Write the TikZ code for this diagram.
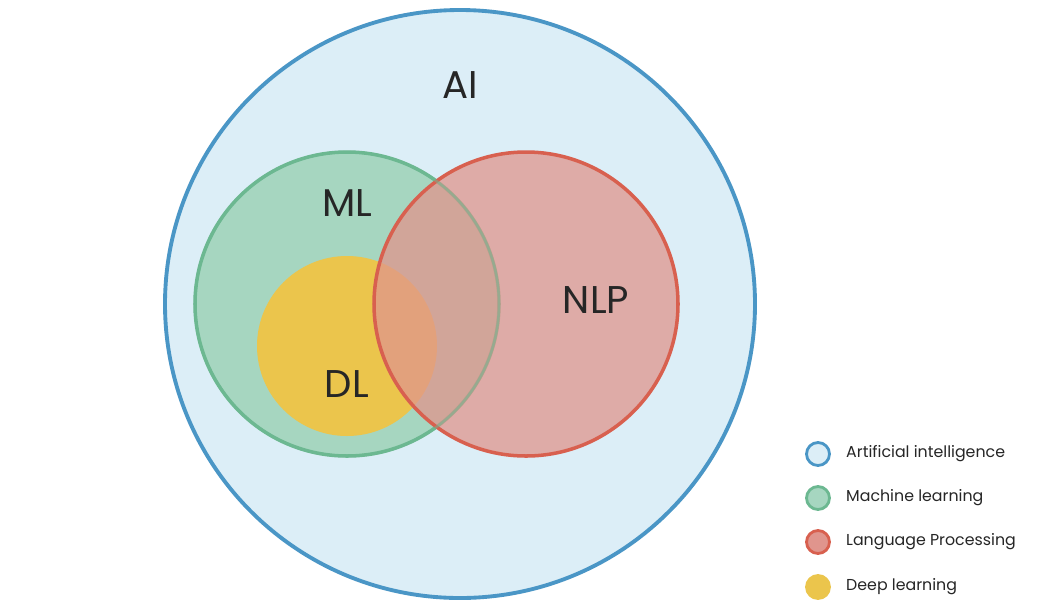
\documentclass[tikz,border=0pt]{standalone}
\usepackage{fontspec}
\setmainfont{Poppins}
\definecolor{aifill}{HTML}{DCEEF7}\definecolor{aidraw}{HTML}{4A96C6}
\definecolor{mlfill}{HTML}{A6D6C0}\definecolor{mldraw}{HTML}{6CB891}
\definecolor{nlpfill}{HTML}{E0958D}\definecolor{nlpdraw}{HTML}{D8604F}
\definecolor{dlfill}{HTML}{EBC54C}
\begin{document}
\begin{tikzpicture}[x=0.02cm,y=-0.02cm,
  big/.style={font=\fontsize{22}{26}\selectfont,text=black!85},
  leg/.style={font=\fontsize{9}{11}\selectfont,anchor=west,text=black!85},
  dot/.style={circle,minimum size=0.46cm,line width=1.6pt,inner sep=0}]
\useasboundingbox (0,0) rectangle (1051,613);
\fill[white] (0,0) rectangle (1051,613);
\draw[aidraw,fill=aifill,line width=2.2pt] (460,304) ellipse [x radius=295,y radius=294];
\draw[mldraw,fill=mlfill,line width=2pt] (347,304) circle [radius=152];
\fill[dlfill] (347,346) circle [radius=90];
\fill[nlpfill,fill opacity=0.75] (526,304) circle [radius=152];
\draw[nlpdraw,line width=2pt] (526,304) circle [radius=152];
\draw[mldraw,line width=1.5pt,opacity=0.5] (347,304) circle [radius=152];
\node[big] (ai) at (460,85) {AI};
\node[big] (ml) at (347,203) {ML};
\node[big] (nlp) at (596,300) {NLP};
\node[big] (dl) at (347,384) {DL};
\node[dot,draw=aidraw,fill=aifill] (d1) at (818,454) {};
\node[dot,draw=mldraw,fill=mlfill] (d2) at (818,498) {};
\node[dot,draw=nlpdraw,fill=nlpfill] (d3) at (818,542) {};
\node[dot,draw=dlfill,fill=dlfill] (d4) at (818,587) {};
\node[leg] (l1) at (840,454) {Artificial intelligence};
\node[leg] (l2) at (840,498) {Machine learning};
\node[leg] (l3) at (840,542) {Language Processing};
\node[leg] (l4) at (840,587) {Deep learning};
\end{tikzpicture}
\end{document}
